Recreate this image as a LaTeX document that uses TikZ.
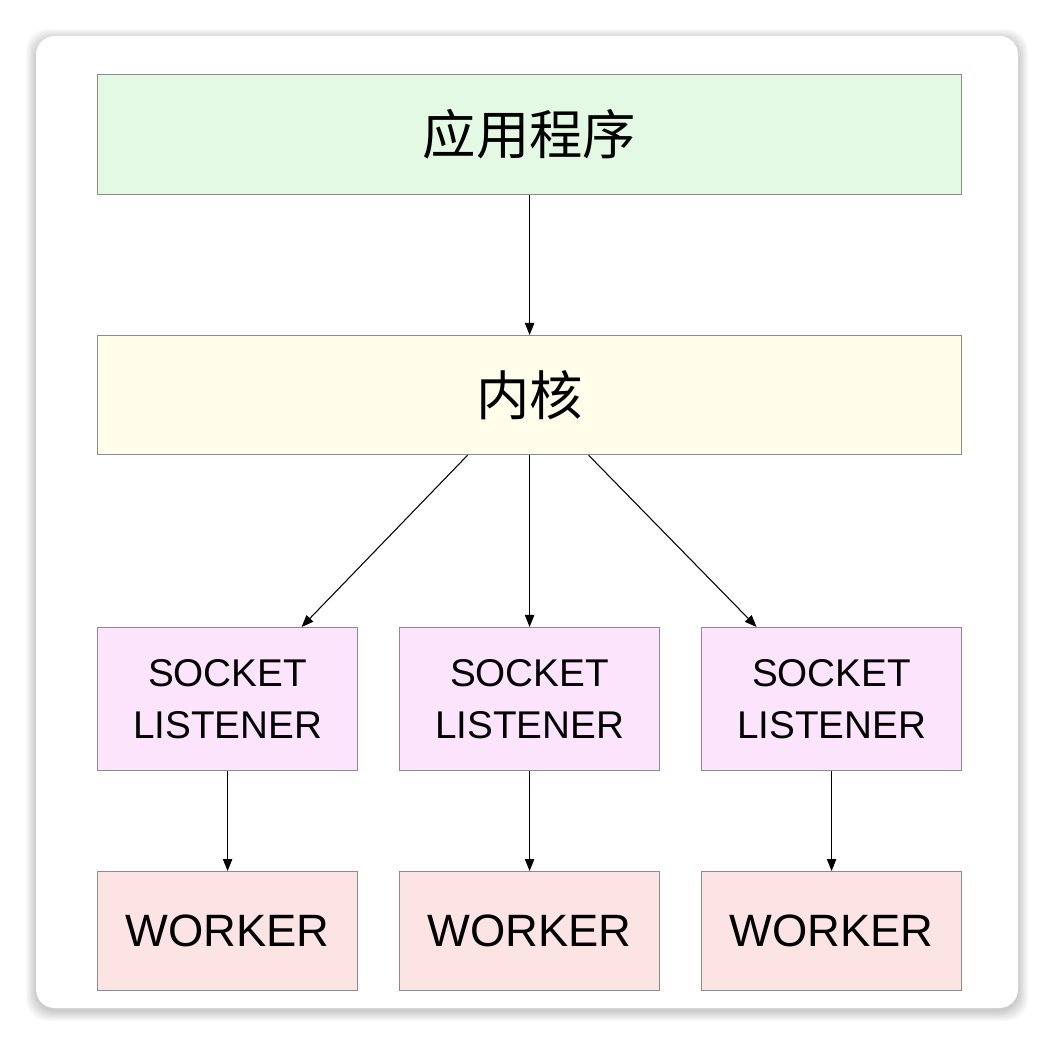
\documentclass[tikz,border=0pt]{standalone}
\usepackage{fontspec}
\setmainfont{Liberation Sans}
\newfontfamily\cjk{Noto Sans CJK SC}
\usetikzlibrary{arrows.meta}
\definecolor{appc}{HTML}{E3F9E3}
\definecolor{kerc}{HTML}{FEFEEA}
\definecolor{sockc}{HTML}{FCE4FC}
\definecolor{workc}{HTML}{FCE4E4}
\definecolor{bordc}{HTML}{8C8C8C}
\tikzset{
 box/.style={draw=bordc,line width=0.9pt,inner sep=0pt,anchor=north west},
 conn/.style={-{Triangle[length=9pt,width=7pt]},line width=0.8pt},
}
\begin{document}
\begin{tikzpicture}[x=0.75pt,y=-0.75pt]
\useasboundingbox (0,0) rectangle (1054,1044);
\fill[white] (0,0) rectangle (1054,1044);
\foreach \i in {1,...,10}{
 \fill[black,opacity=0.018,rounded corners=16] (36-\i,36-\i+3) rectangle (1018+\i,1008+\i+3);
}
\fill[white,rounded corners=14] (36,36) rectangle (1018,1008);
\node[box,fill=appc,minimum width=864*0.75pt,minimum height=120*0.75pt] (app) at (97,74) {};
\node at (app.center) {\cjk\fontsize{40}{40}\selectfont 应用程序};
\node[box,fill=kerc,minimum width=864*0.75pt,minimum height=119*0.75pt] (ker) at (97,335) {};
\node at (ker.center) {\cjk\fontsize{40}{40}\selectfont 内核};
\foreach \n/\x in {1/97,2/399,3/701}{
 \node[box,fill=sockc,minimum width=260*0.75pt,minimum height=143*0.75pt] (s\n) at (\x,627) {};
 \node[align=center,font=\fontsize{29}{39}\selectfont] at (s\n.center) {SOCKET\\LISTENER};
 \node[box,fill=workc,minimum width=260*0.75pt,minimum height=119*0.75pt] (w\n) at (\x,871) {};
 \node[font=\fontsize{34}{34}\selectfont] at (w\n.center) {WORKER};
 \draw[conn] (s\n.south) -- (w\n.north);
}
\draw[conn] (app.south) -- (ker.north);
\draw[conn] ([xshift=-62*0.75pt]ker.south) -- ([xshift=74*0.75pt]s1.north);
\draw[conn] (ker.south) -- (s2.north);
\draw[conn] ([xshift=59*0.75pt]ker.south) -- ([xshift=-75*0.75pt]s3.north);
\end{tikzpicture}
\end{document}
